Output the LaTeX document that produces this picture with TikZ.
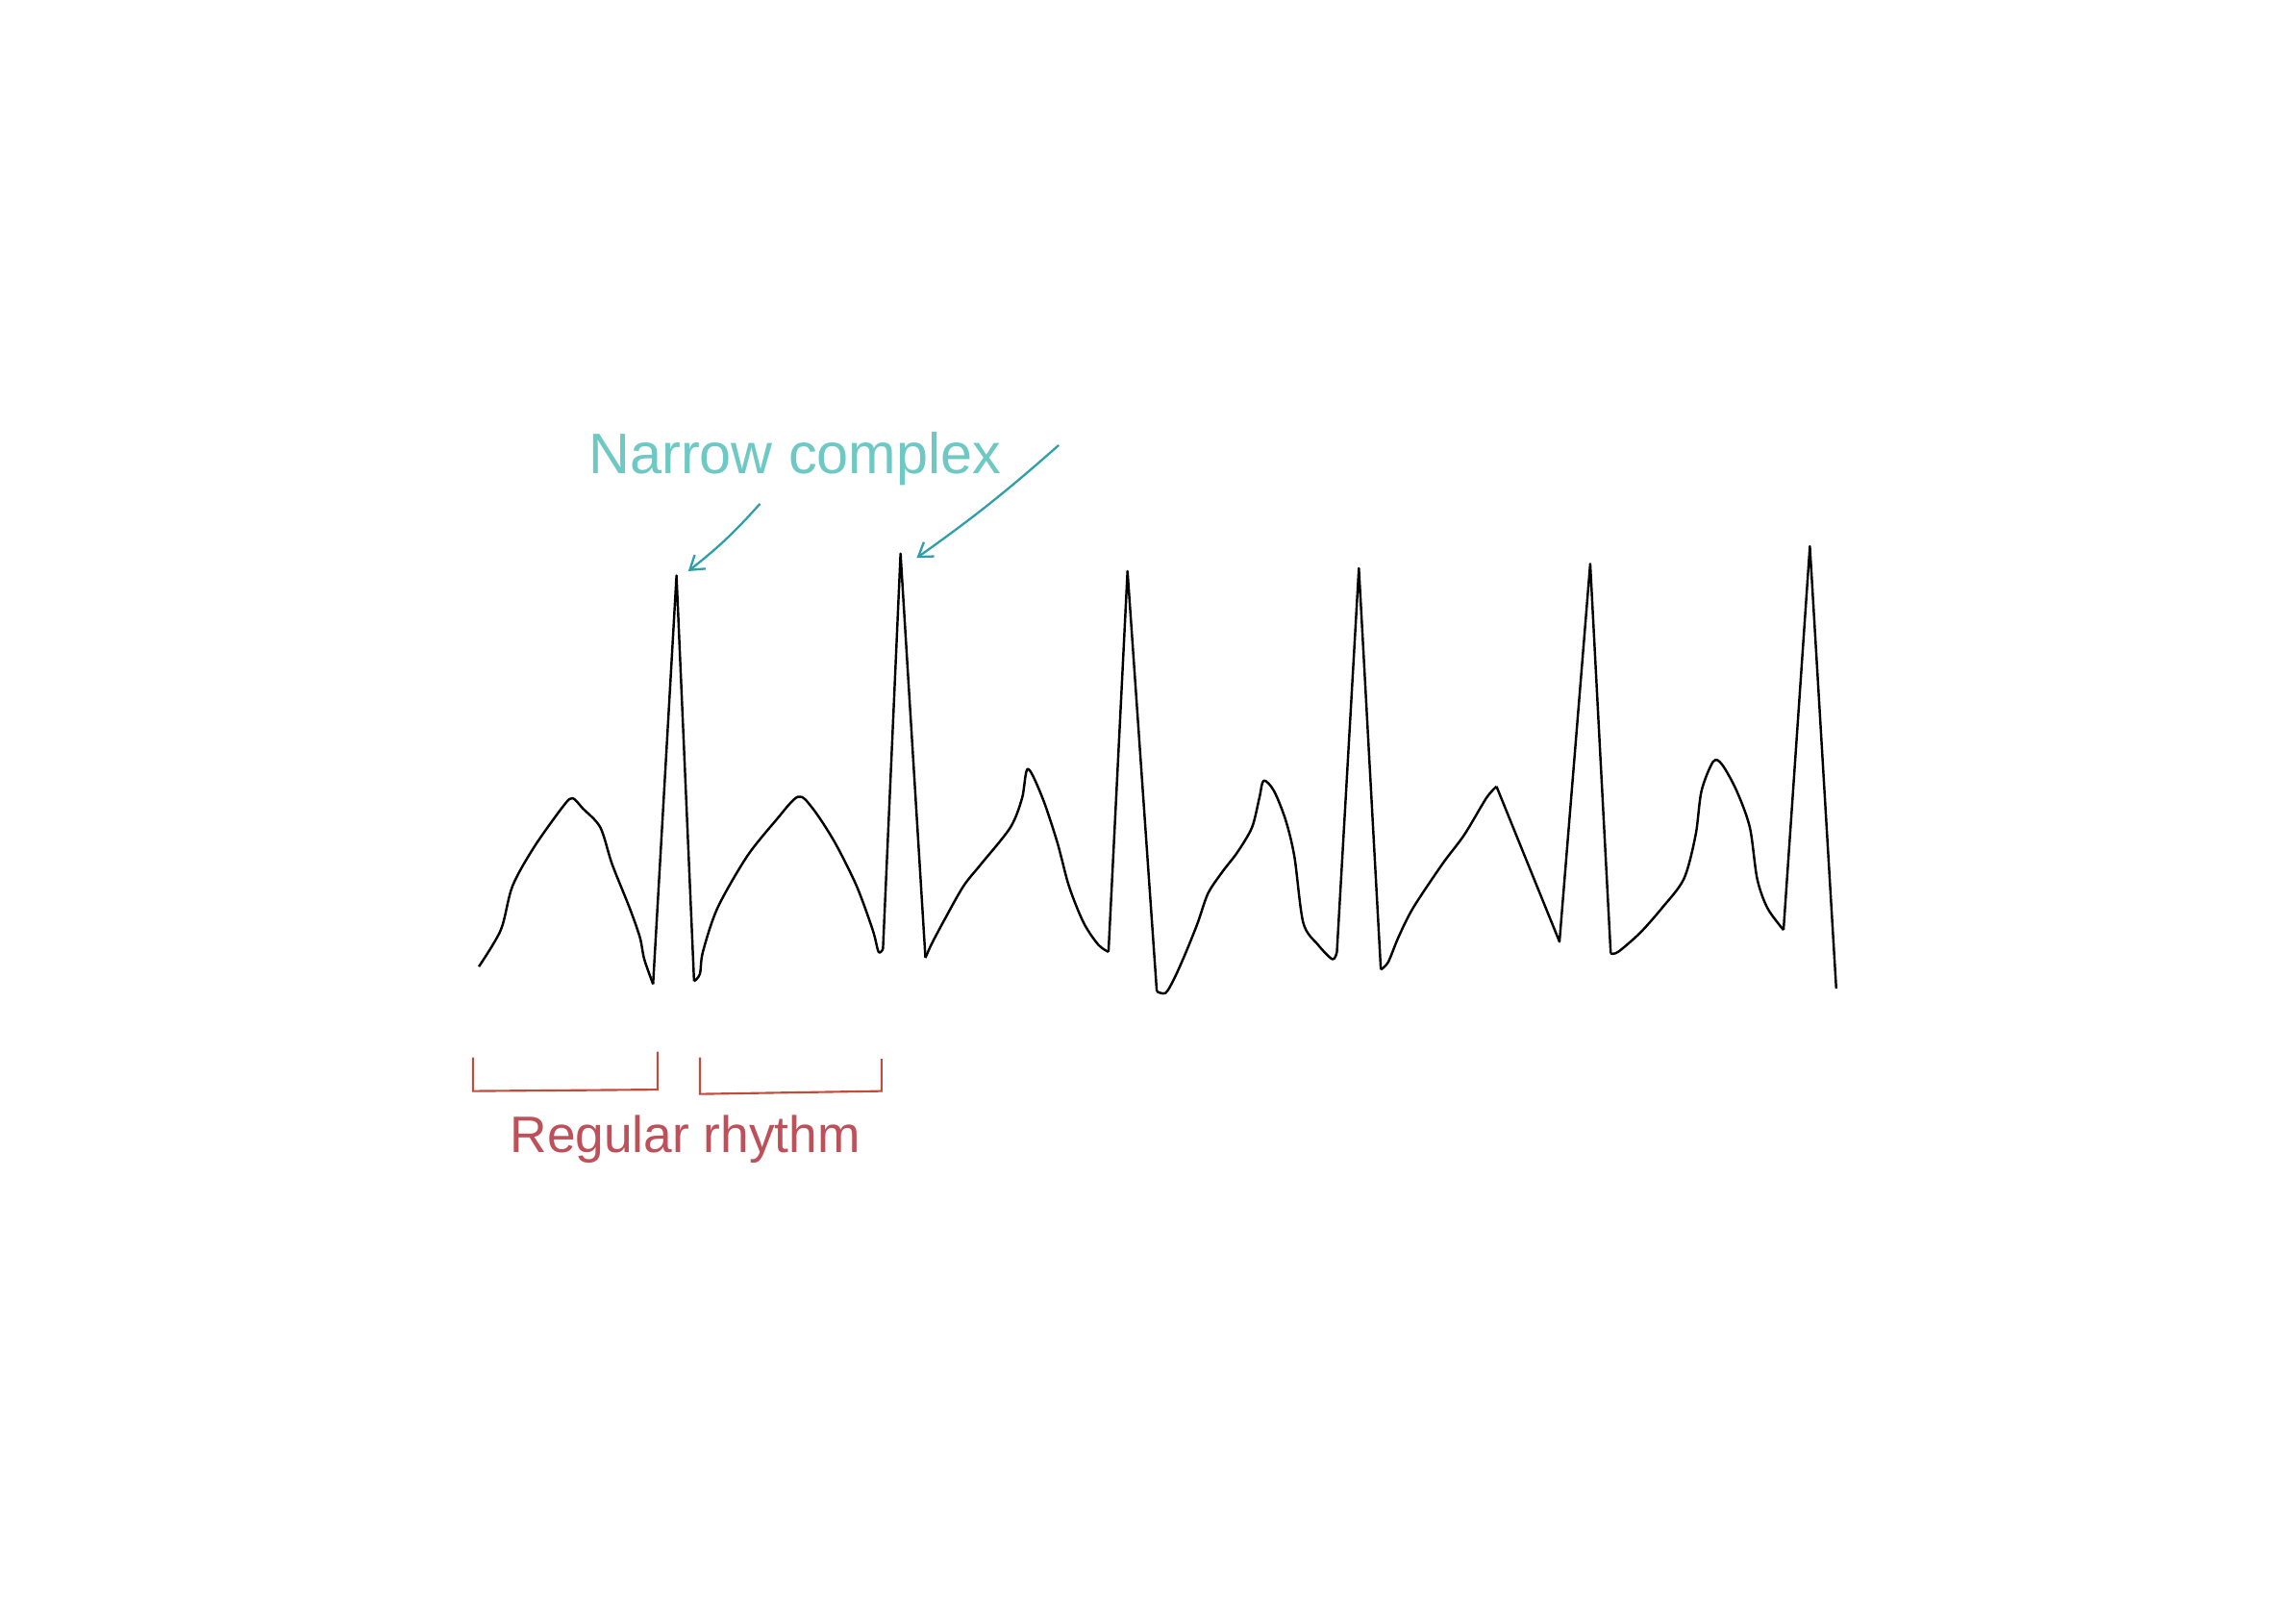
\documentclass[tikz,border=0pt]{standalone}
\usepackage{fontspec}
\setmainfont{Liberation Sans}
\definecolor{teal1}{RGB}{110,200,195}
\definecolor{teal2}{RGB}{45,160,170}
\definecolor{red1}{RGB}{190,80,90}
\definecolor{red2}{RGB}{195,75,60}
\begin{document}
\begin{tikzpicture}[x=1pt,y=-1pt,
  wave/.style={line width=1.6pt,line join=round,black},
  brk/.style={line width=1.4pt,red2},
  arr/.style={line width=1.5pt,teal2,-{Straight Barb[length=9pt,width=12pt]}}]
\usetikzlibrary{arrows.meta}
\fill[white] (0,0) rectangle (1568,1095);
\useasboundingbox (0,0) rectangle (1568,1095);
\draw[wave] plot[smooth,tension=0.5] coordinates {(327,660) (342,635) (350,605) (365,578) (385,550) (391,545) (398,552) (410,565) (418,590) (430,620) (437,640) (440,655) (446,672)};
\draw[wave] (446,672) -- (462,393) -- (474,670);
\draw[wave] plot[smooth,tension=0.5] coordinates {(474,670) (478,665) (480,650) (490,620) (510,585) (530,560) (545,544) (555,552) (570,575) (585,605) (596,635) (600,650) (603,648)};
\draw[wave] (603,648) -- (615,378) -- (632,654);
\draw[wave] plot[smooth,tension=0.5] coordinates {(632,654) (636,645) (645,628) (658,605) (670,590) (690,565) (698,545) (702,525) (712,545) (722,575) (730,605) (740,630) (750,645) (757,650)};
\draw[wave] (757,650) -- (770,390) -- (790,677);
\draw[wave] plot[smooth,tension=0.5] coordinates {(790,677) (796,678) (802,668) (810,650) (818,630) (825,610) (835,595) (845,582) (855,565) (860,545) (863,533) (870,540) (878,560) (884,585) (890,630) (900,645) (910,655) (913,650)};
\draw[wave] (913,650) -- (928,388) -- (943,662);
\draw[wave] plot[smooth,tension=0.5] coordinates {(943,662) (948,657) (955,640) (965,620) (985,590) (1000,570) (1015,545) (1022,537)};
\draw[wave] (1022,537) -- (1065,643) -- (1086,385) -- (1100,651);
\draw[wave] plot[smooth,tension=0.5] coordinates {(1100,651) (1105,650) (1120,637) (1135,620) (1150,600) (1158,570) (1162,540) (1170,520) (1176,522) (1186,540) (1195,565) (1200,600) (1207,620) (1218,635)};
\draw[wave] (1218,635) -- (1236,373) -- (1254,675);
\draw[brk] (323,722) -- (323,745) -- (449,744) -- (449,718);
\draw[brk] (478,722) -- (478,747) -- (602,745) -- (602,723);
\node[text=red1,font=\fontsize{35}{40}\selectfont] (rr) at (468,778) {Regular rhythm};
\node[text=teal1,font=\fontsize{39}{44}\selectfont] (nc) at (543,313) {Narrow complex};
\coordinate (a1) at (519,344); \coordinate (b1) at (470,390);
\coordinate (a2) at (723,304); \coordinate (b2) at (626,381);
\draw[arr] (a1) to[bend left=5] (b1);
\draw[arr] (a2) to[bend left=3] (b2);
\end{tikzpicture}
\end{document}
